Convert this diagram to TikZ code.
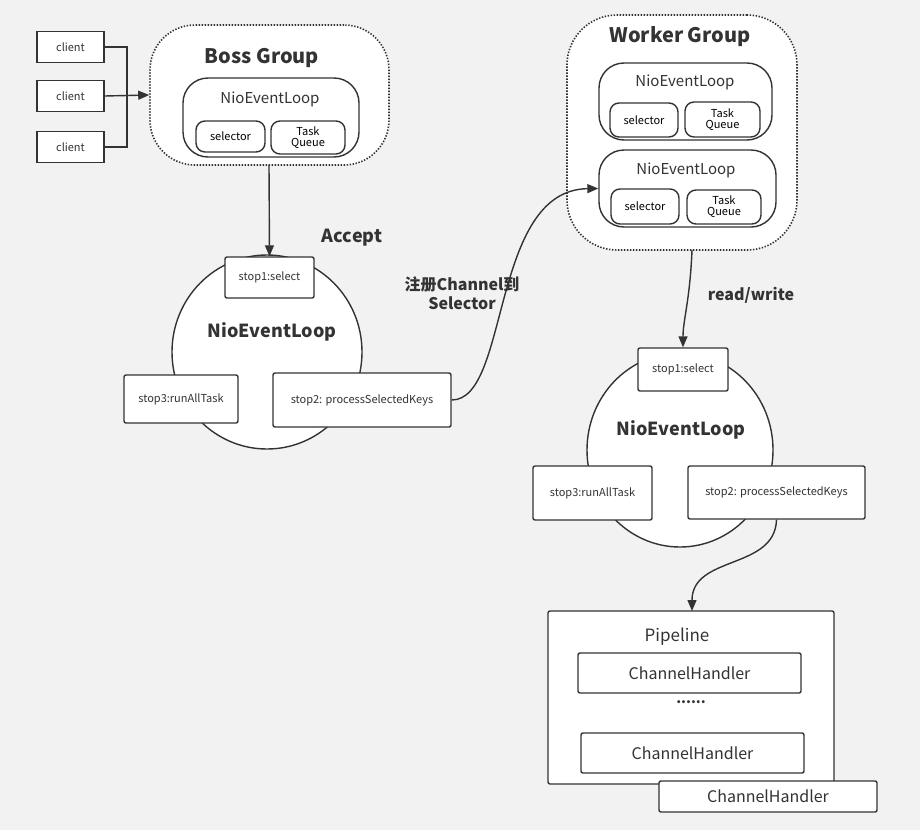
\documentclass[tikz,border=0pt]{standalone}
\usepackage{fontspec}
\setmainfont{Noto Sans CJK SC}
\usetikzlibrary{arrows.meta}
\definecolor{bg}{HTML}{F2F2F2}
\definecolor{ink}{HTML}{333333}
\begin{document}
\begin{tikzpicture}[x=1pt,y=-1pt,
  box/.style={draw=ink,line width=1.4pt,fill=white,rounded corners=2pt,inner sep=0pt},
  pill/.style={draw=ink,line width=1.4pt,fill=white,rounded corners=9pt,inner sep=0pt,align=center,font=\fontsize{11}{11}\selectfont},
  arr/.style={draw=ink,line width=1.4pt,-{Triangle[length=11pt,width=9pt]}},
  sm/.style={font=\fontsize{11}{12}\selectfont,text=ink},
  bt/.style={font=\fontsize{18}{20}\selectfont\bfseries,text=ink}]
\fill[bg] (0,0) rectangle (920,830);
\useasboundingbox (0,0) rectangle (920,830);
% clients
\foreach \n/\y in {c1/47,c2/96,c3/147}{
  \node[box,rounded corners=0pt,minimum width=67pt,minimum height=31pt,sm] (\n) at (70.5,\y) {client};}
\draw[ink,line width=1.4pt] (c1.east) -| (127,96) (c3.east) -| (127,96);
% boss group
\node[draw=ink,line width=1.6pt,dash pattern=on 1.4pt off 1.6pt,fill=white,rounded corners=45pt,minimum width=239pt,minimum height=140pt] (boss) at (269.5,95) {};
\draw[arr] (c2.east) -- (boss.west);
\node[bt,font=\fontsize{20}{20}\selectfont\bfseries] (bt) at (262,58) {Boss Group};
\node[draw=ink,line width=1.4pt,fill=white,rounded corners=25pt,minimum width=176pt,minimum height=79pt] (bn) at (271,117.5) {};
\node[font=\fontsize{15}{15}\selectfont,text=ink] (bnt) at (270,99) {NioEventLoop};
\node[pill,minimum width=69pt,minimum height=31pt] (bs) at (230.5,136.5) {selector};
\node[pill,minimum width=74pt,minimum height=33pt] (bq) at (308,137.5) {Task\\Queue};
% boss loop
\draw[ink,line width=1.4pt,fill=white] (267,352) ellipse (95 and 97);
\node[box,minimum width=89pt,minimum height=41pt,sm] (s1) at (269.5,277.5) {stop1:select};
\draw[arr] (269,165) -- (s1.north);
\node[bt] (acc) at (352,238) {Accept};
\node[bt] (nl1) at (272,332) {NioEventLoop};
\node[box,minimum width=114pt,minimum height=48pt,sm] (s3) at (181,399) {stop3:runAllTask};
\node[box,minimum width=178pt,minimum height=54pt,sm] (s2) at (362,400) {stop2: processSelectedKeys};
% worker group
\node[draw=ink,line width=1.6pt,dash pattern=on 1.4pt off 1.6pt,fill=white,rounded corners=50pt,minimum width=230pt,minimum height=235pt] (wk) at (682,132.5) {};
\node[bt,font=\fontsize{20}{20}\selectfont\bfseries] (wt) at (680,37) {Worker Group};
\node[draw=ink,line width=1.4pt,fill=white,rounded corners=25pt,minimum width=173pt,minimum height=77pt] (wn1) at (685.5,101.5) {};
\node[font=\fontsize{15}{15}\selectfont,text=ink] at (685,82) {NioEventLoop};
\node[pill,minimum width=68pt,minimum height=34pt] at (644,120) {selector};
\node[pill,minimum width=75pt,minimum height=35pt] at (722.5,119.5) {Task\\Queue};
\node[draw=ink,line width=1.4pt,fill=white,rounded corners=25pt,minimum width=177pt,minimum height=77pt] (wn2) at (687.5,188.5) {};
\node[font=\fontsize{15}{15}\selectfont,text=ink] at (686,170) {NioEventLoop};
\node[pill,minimum width=68pt,minimum height=35pt] at (645,206.5) {selector};
\node[pill,minimum width=74pt,minimum height=34pt] at (724,207) {Task\\Queue};
\draw[arr] (s2.east) .. controls (510,400) and (490,190) .. (wn2.west);
\node[bt,font=\fontsize{16}{19}\selectfont\bfseries,align=center] (reg) at (462,293) {注册Channel到\\Selector};
% worker loop
\draw[ink,line width=1.4pt,fill=white] (680,450) ellipse (93 and 97);
\node[box,minimum width=90pt,minimum height=43pt,sm] (w1) at (683,369.5) {stop1:select};
\draw[arr] (692,250) .. controls (690,300) and (683,320) .. (w1.north);
\node[bt,font=\fontsize{16}{19}\selectfont\bfseries] (rw) at (751,295) {read/write};
\node[bt] at (681,430) {NioEventLoop};
\node[box,minimum width=119pt,minimum height=54pt,sm] (w3) at (592.5,493) {stop3:runAllTask};
\node[box,minimum width=177pt,minimum height=53pt,sm] (w2) at (776.5,492.5) {stop2: processSelectedKeys};
% pipeline
\node[box,minimum width=286pt,minimum height=173pt] (pl) at (691,697.5) {};
\draw[arr] (w2.south) .. controls (775,570) and (692,555) .. (692,611);
\node[font=\fontsize{17}{17}\selectfont,text=ink] at (677,637) {Pipeline};
\node[box,minimum width=223pt,minimum height=40pt,font=\fontsize{16}{16}\selectfont,text=ink] (h1) at (689.5,673) {ChannelHandler};
\node[font=\fontsize{14}{14}\selectfont\bfseries,text=ink] at (691,702) {......};
\node[box,minimum width=223pt,minimum height=40pt,font=\fontsize{16}{16}\selectfont,text=ink] (h2) at (692.5,753) {ChannelHandler};
\node[box,minimum width=218pt,minimum height=31pt,font=\fontsize{16}{16}\selectfont,text=ink] (h3) at (768,796.5) {ChannelHandler};
\end{tikzpicture}
\end{document}
